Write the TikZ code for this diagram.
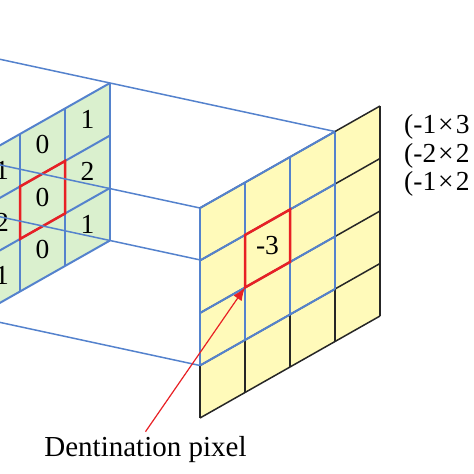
\documentclass[tikz,border=0pt]{standalone}
\usepackage{fontspec}
\setmainfont{Liberation Serif}
\usepackage{tikz}
\usetikzlibrary{arrows.meta, calc}

\definecolor{lineblue}{RGB}{84,130,205}
\definecolor{kerngreen}{RGB}{218,240,206}
\definecolor{pixyellow}{RGB}{255,250,186}
\definecolor{boxred}{RGB}{232,32,36}

\begin{document}
\begin{tikzpicture}[x=1pt, y=-1pt,
    cell/.style={font=\fontsize{27.5}{30}\selectfont, inner sep=0pt},
    gridblue/.style={draw=lineblue, line width=2pt},
    gridblack/.style={draw=black!85, line width=1.5pt},
    redbox/.style={draw=boxred, line width=2.5pt},
    link/.style={draw=lineblue, line width=1.5pt},
    sumline/.style={font=\fontsize{27.5}{30}\selectfont, anchor=base west, inner sep=0pt},
    caption/.style={font=\fontsize{29}{32}\selectfont, anchor=base, inner sep=4pt}
]
\useasboundingbox (0,0) rectangle (474,474);
\clip (0,0) rectangle (474,474);

% Filterkern
\begin{scope}[shift={(-25,159.5)}, x={(45pt,25.5pt)}, y={(0pt,-52.5pt)}]
  \fill[kerngreen] (0,0) -- (3,0) -- (3,3) -- (0,3) -- cycle;
  \foreach \i in {0,...,3} \draw[gridblue] (\i,0) -- (\i,3);
  \foreach \j in {0,...,3} \draw[gridblue] (0,\j) -- (3,\j);
  \foreach \i/\va/\vb/\vc in {0/-1/-2/-1, 1/0/0/0, 2/1/2/1} {
    \node[cell] (k-\i-0) at (\i+.5,.45) {\va};
    \node[cell] (k-\i-1) at (\i+.5,1.45) {\vb};
    \node[cell] (k-\i-2) at (\i+.5,2.45) {\vc};
  }
  \draw[redbox] (1,1) -- (2,1) -- (2,2) -- (1,2) -- cycle;
  \coordinate (k-nw) at (0,0);
  \coordinate (k-ne) at (3,0);
  \coordinate (k-sw) at (0,3);
  \coordinate (k-se) at (3,3);
\end{scope}

% Verbindungslinien
\coordinate (b-nw) at (200,208);
\coordinate (b-ne) at (335,131.5);
\coordinate (b-sw) at (200,365.5);
\coordinate (b-se) at (335,289);
\foreach \c in {nw,ne,sw,se}
  \draw[link] ($(k-\c)!-1!(b-\c)$) -- (b-\c);

% Ausgabebild
\begin{scope}[shift={(200,208)}, x={(45pt,25.5pt)}, y={(0pt,-52.5pt)}]
  \fill[pixyellow] (0,0) -- (4,0) -- (4,4) -- (0,4) -- cycle;
  \foreach \i in {0,...,4} \draw[gridblack] (\i,0) -- (\i,4);
  \foreach \j in {0,...,4} \draw[gridblack] (0,\j) -- (4,\j);
  \foreach \i in {0,...,3} \draw[gridblue] (\i,0) -- (\i,3);
  \foreach \j in {0,...,3} \draw[gridblue] (0,\j) -- (3,\j);
  \draw[redbox] (1,1) -- (2,1) -- (2,2) -- (1,2) -- cycle;
  \node[cell] (res) at (1.5,1.45) {-3};
  \coordinate (pix) at (1,2);
\end{scope}

% Beschriftung
\node[sumline] (sum1) at (404,133) {(-1\kern2pt×\kern2pt3};
\node[sumline] (sum2) at (404,162) {(-2\kern2pt×\kern2pt2};
\node[sumline] (sum3) at (404,190) {(-1\kern2pt×\kern2pt2};
\node[caption] (dest) at (145.5,456) {Dentination pixel};
\draw[boxred, line width=1.2pt, -{Latex[length=13pt, width=10pt]}] (dest.north) -- (pix);

\end{tikzpicture}
\end{document}
